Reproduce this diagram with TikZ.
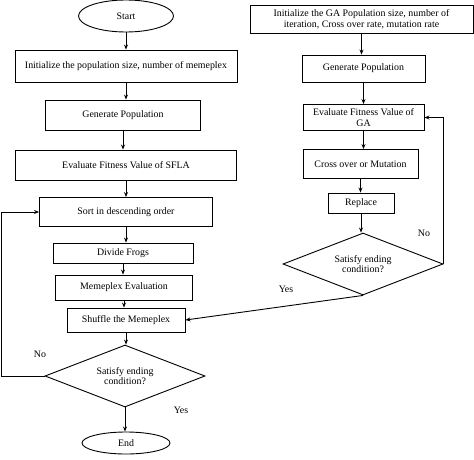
\documentclass[tikz,border=0pt]{standalone}
\usepackage{fontspec}
\setmainfont{Liberation Serif}
\usetikzlibrary{shapes.geometric}
\usetikzlibrary{arrows.meta}

\begin{document}
\begin{tikzpicture}[x=1pt,y=-1pt,
    txt/.style={font=\fontsize{9.9}{10.8}\selectfont},
    box/.style={draw, line width=0.9pt, txt, inner sep=1pt, align=center},
    oval/.style={draw, line width=0.9pt, txt, ellipse, inner sep=0pt},
    decision/.style={draw, line width=0.9pt, txt, diamond, aspect=2.6, inner sep=0pt, align=center, minimum width=160pt, minimum height=62pt},
    flow/.style={line width=0.9pt, -{Stealth[length=5pt,width=4pt]}},
    link/.style={line width=0.9pt}]
    \useasboundingbox (0,0) rectangle (474,460);

    % SFLA column
    \node[oval, minimum width=95pt, minimum height=32pt] (start) at (126,16) {Start};
    \node[box, minimum width=222pt, minimum height=32pt] (init) at (126,66) {Initialize the population size, number of memeplex};
    \node[box, minimum width=155pt, minimum height=30pt] (genpop) at (123,115) {Generate Population};
    \node[box, minimum width=221pt, minimum height=30pt] (evalS) at (126,165) {Evaluate Fitness Value of SFLA};
    \node[box, minimum width=173pt, minimum height=29pt] (sort) at (126,212) {Sort in descending order};
    \node[box, minimum width=140pt, minimum height=20pt] (divide) at (123,253) {Divide Frogs};
    \node[box, minimum width=137pt, minimum height=25pt] (memeval) at (124,287.5) {Memeplex Evaluation};
    \node[box, minimum width=118pt, minimum height=24pt] (shuffle) at (126,320) {Shuffle the Memeplex};
    \node[decision] (decL) at (125,376) {Satisfy ending\\condition?};
    \node[oval, minimum width=88pt, minimum height=22pt] (end) at (126,443) {End};

    % GA column
    \node[box, minimum width=223pt, minimum height=28pt] (initGA) at (361.5,19) {Initialize the GA Population size, number of\\iteration, Cross over rate, mutation rate};
    \node[box, minimum width=123pt, minimum height=27pt] (genGA) at (363.5,68.5) {Generate Population};
    \node[box, minimum width=121pt, minimum height=26pt] (evalGA) at (363.5,117.5) {Evaluate Fitness Value of\\GA};
    \node[box, minimum width=115pt, minimum height=29pt] (cross) at (360.5,164) {Cross over or Mutation};
    \node[box, minimum width=66pt, minimum height=20pt] (replace) at (361,203) {Replace};
    \node[decision] (decR) at (363,264) {Satisfy ending\\condition?};

    \coordinate (loopL) at (1,376);

    \foreach \a/\b in {start/init, init/genpop, genpop/evalS, evalS/sort, sort/divide, divide/memeval, memeval/shuffle, shuffle/decL, decL/end, initGA/genGA, genGA/evalGA, evalGA/cross, cross/replace, replace/decR}
        \draw[flow] (\a.south) -- (\a.south |- \b.north);

    \draw[flow] (decR.east) |- (evalGA.east);
    \draw[flow] (decR.south) -- (shuffle.east);
    \draw[link] (decL.west) -- (loopL);
    \draw[flow] (loopL) |- (sort.west);

    \node[txt] (noL) at (40,354) {No};
    \node[txt] (yesL) at (181,410) {Yes};
    \node[txt] (noR) at (424,233) {No};
    \node[txt] (yesR) at (286,289) {Yes};
\end{tikzpicture}
\end{document}
